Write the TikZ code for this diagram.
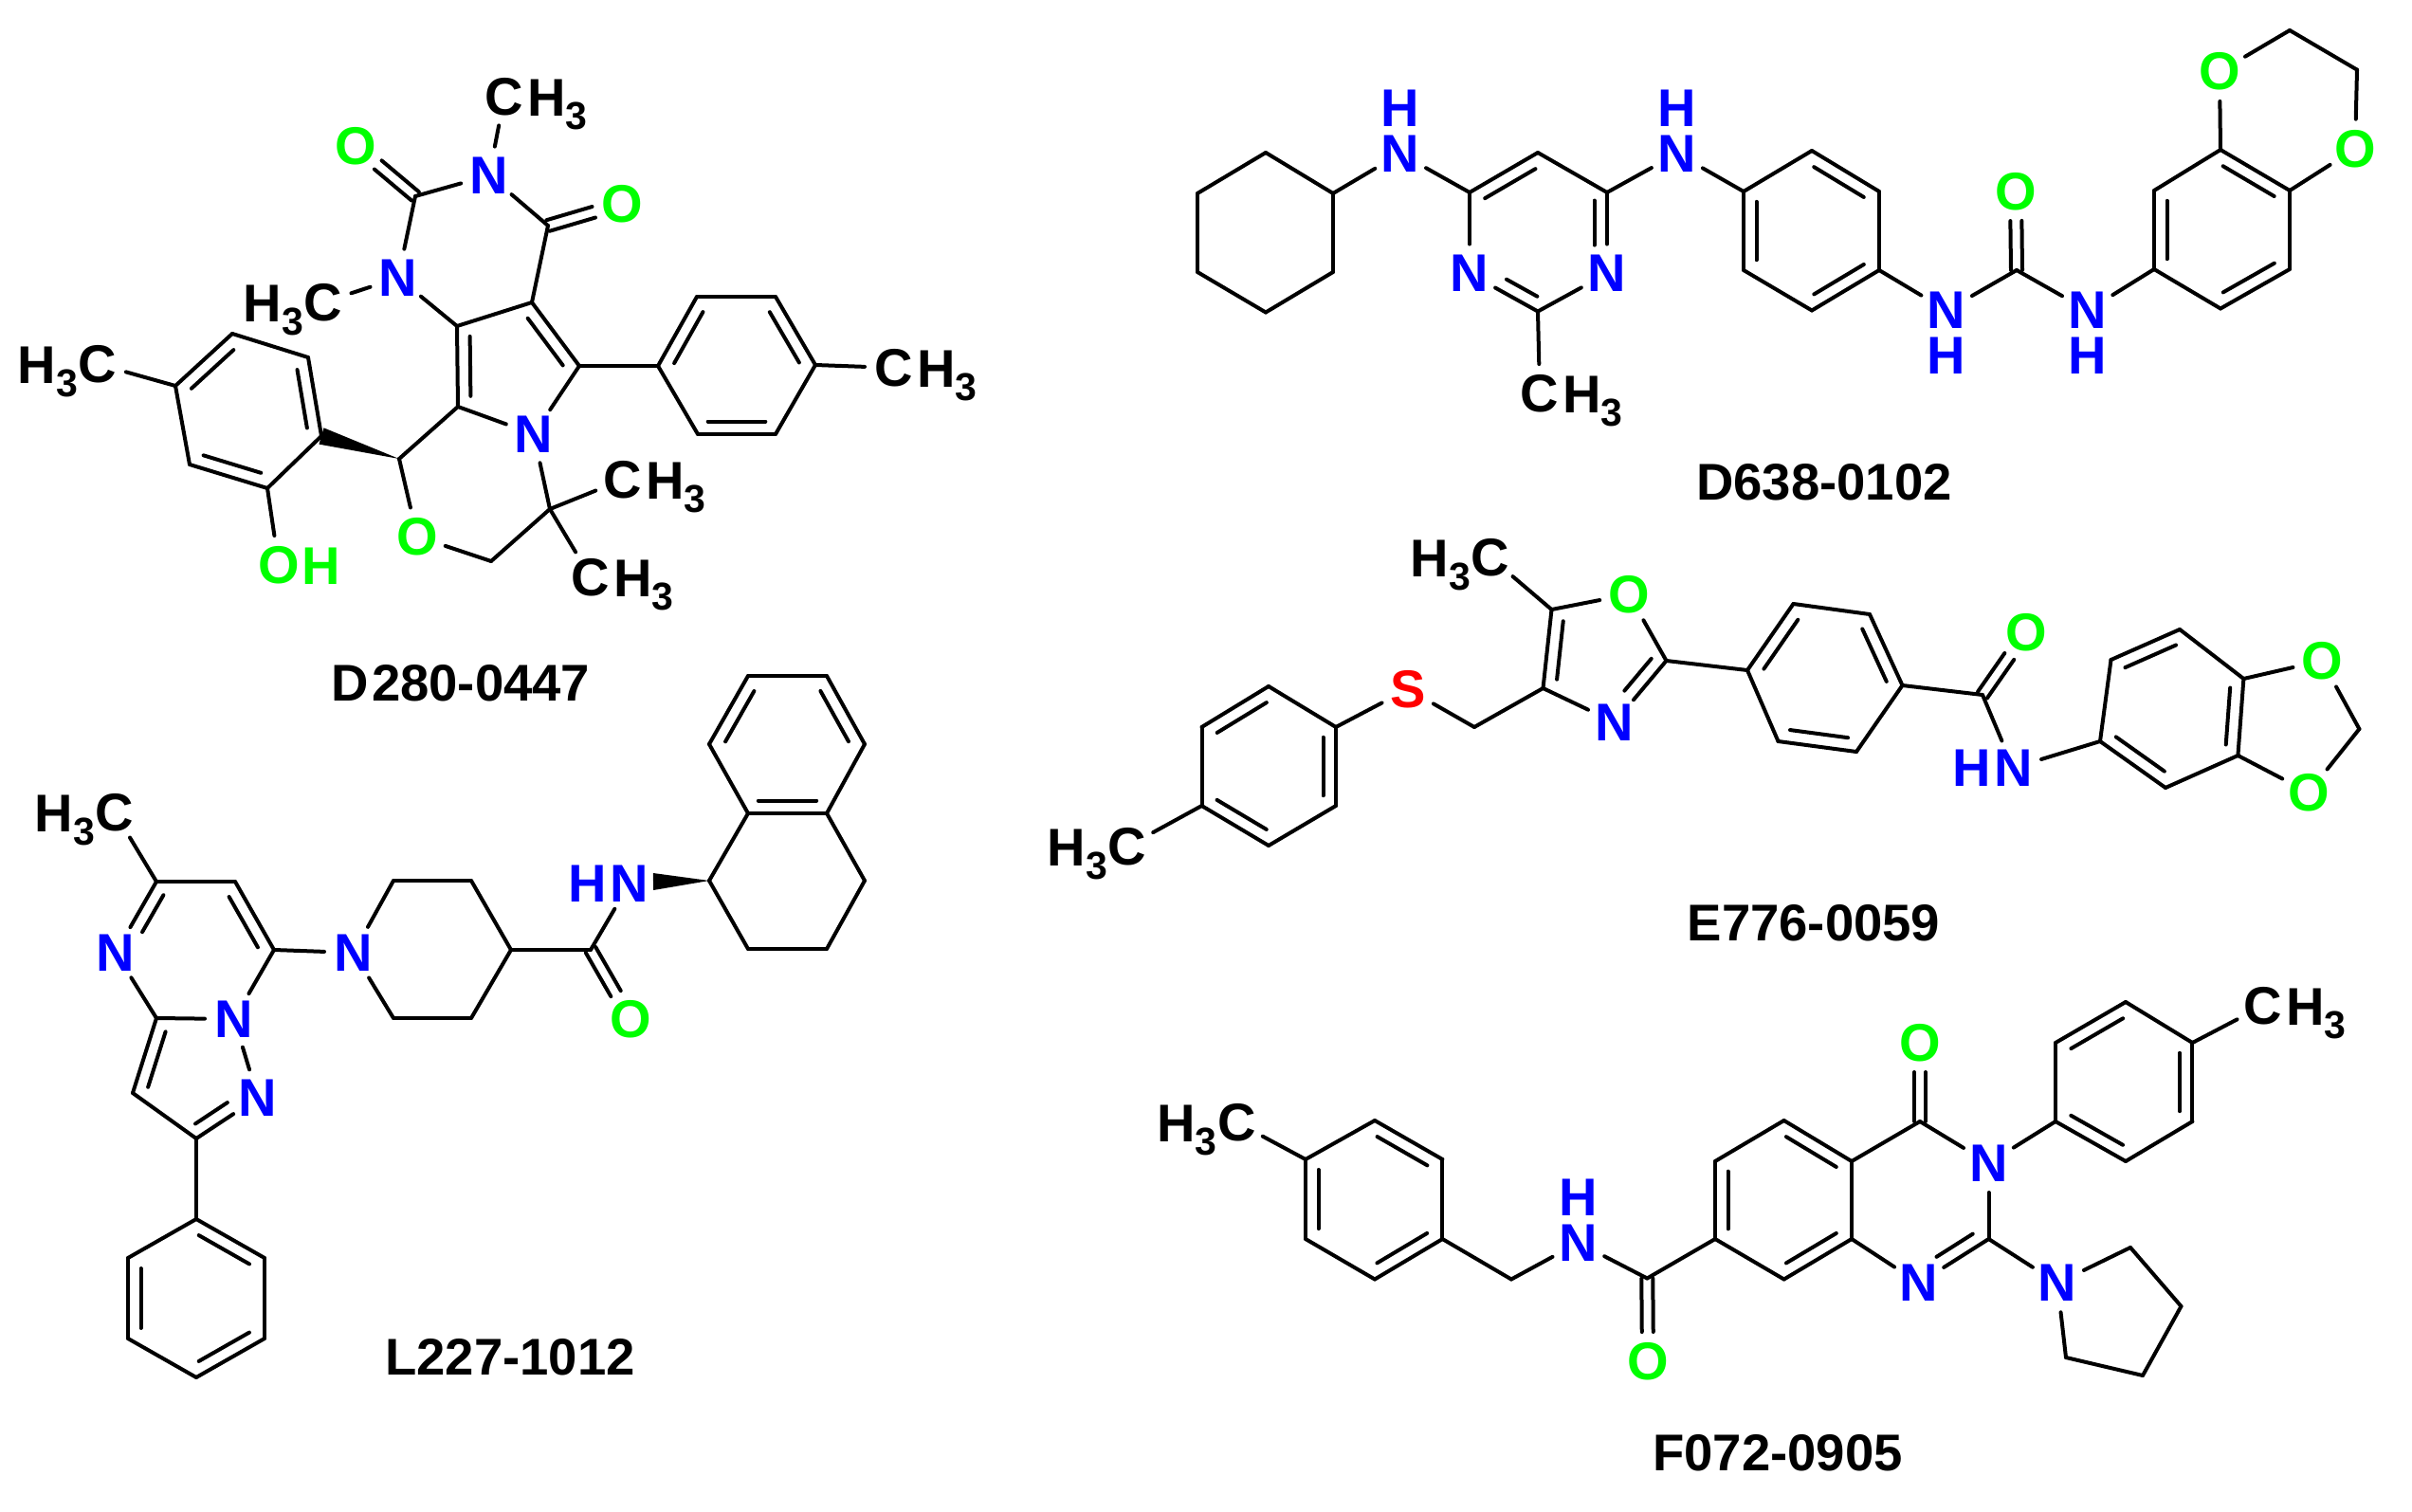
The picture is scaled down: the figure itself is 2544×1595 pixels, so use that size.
\documentclass[tikz,border=0pt]{standalone}
\usepackage{fontspec}
\setmainfont{Liberation Sans}
\usetikzlibrary{calc}
\usetikzlibrary{positioning}

% second line of a ring double bond, on the left of the direction a->b
\newcommand{\inr}[2]{\draw ($(#1)!.13!(#2)!13.5pt!90:(#2)$) -- ($(#1)!.87!(#2)!13.5pt!90:(#2)$);}
\newcommand{\inrf}[4]{\draw ($(#1)!#3!(#2)!13.5pt!90:(#2)$) -- ($(#1)!#4!(#2)!13.5pt!90:(#2)$);}
% C=O
\newcommand{\twin}[2]{\draw[shorten >=31pt] ($(#1)!6pt!90:(#2)$) -- ($(#2)!6pt!-90:(#1)$);
	\draw[shorten >=31pt] ($(#1)!6pt!-90:(#2)$) -- ($(#2)!6pt!90:(#1)$);}
\newcommand{\wdg}[2]{\fill (#1) -- ($(#2)!9pt!90:(#1)$) -- ($(#2)!9pt!-90:(#1)$) -- cycle;}
% H3 beside a C
\newcommand{\threesub}{\raisebox{-14pt}{\fontsize{41}{41}\selectfont 3}}
\newcommand{\tailr}[1]{\node[hatom,anchor=base west] (#1_h) at ([xshift=22pt,yshift=-20pt]#1.center) {H\threesub};}
\newcommand{\taill}[1]{\node[hatom,anchor=base east] (#1_h) at ([xshift=-19pt,yshift=-20pt]#1.center) {H\threesub};}

\begin{document}
\begin{tikzpicture}[x=1pt,y=-1pt,line width=4pt,line cap=round,line join=round]
	\tikzstyle{every node}=[font=\fontsize{56}{60}\selectfont\bfseries]
	\tikzstyle{atom}=[circle,inner sep=0pt,minimum size=58pt]
	\tikzstyle{carbon}=[atom,text=black]
	\tikzstyle{nitro}=[atom,text=blue]
	\tikzstyle{oxy}=[atom,text=green]
	\tikzstyle{sulf}=[atom,text=red]
	\tikzstyle{hatom}=[inner sep=0pt,text=black]
	\tikzstyle{hnit}=[hatom,text=blue,anchor=center]
	\tikzstyle{molname}=[inner sep=0pt,anchor=base,font=\fontsize{54.5}{60}\selectfont\bfseries]

	\useasboundingbox (0,0) rectangle (2544,1595);

	% D280-0447
	\coordinate (m1_c2) at (438,207); \coordinate (m1_c4) at (578,238);
	\coordinate (m1_c8) at (482,344); \coordinate (m1_c4a) at (561,319);
	\coordinate (m1_c5) at (611,386); \coordinate (m1_c9) at (483,429);
	\coordinate (m1_ch) at (421,484); \coordinate (m1_ch2) at (518,592);
	\coordinate (m1_cq) at (580,537);
	\coordinate (m1_a1) at (339,460); \coordinate (m1_a2) at (325,377);
	\coordinate (m1_a3) at (245,352); \coordinate (m1_a4) at (185,407);
	\coordinate (m1_a5) at (200,490); \coordinate (m1_a6) at (282,515);
	\coordinate (m1_p1) at (694,386); \coordinate (m1_p2) at (735,313);
	\coordinate (m1_p3) at (818,313); \coordinate (m1_p4) at (860,385);
	\coordinate (m1_p5) at (818,458); \coordinate (m1_p6) at (736,458);
	\node[oxy]    (m1_o2)  at (375,154) {O};
	\node[oxy]    (m1_o4)  at (656,215) {O};
	\node[oxy]    (m1_o)   at (440,566) {O};
	\node[oxy]    (m1_oh)  at (294,596) {O};
	\node[hnit,anchor=base west] (m1_oh_h) at ([xshift=22pt,yshift=-20pt]m1_oh.center) {\textcolor{green}{H}};
	\node[nitro]  (m1_n3)  at (516,185) {N};
	\node[nitro]  (m1_n1)  at (420,293) {N};
	\node[nitro]  (m1_n)   at (563,458) {N};
	\node[carbon] (m1_me3) at (532,102) {C}; \tailr{m1_me3}
	\node[carbon] (m1_me1) at (341,319) {C}; \taill{m1_me1}
	\node[carbon] (m1_mea) at (657,506) {C}; \tailr{m1_mea}
	\node[carbon] (m1_meb) at (623,609) {C}; \tailr{m1_meb}
	\node[carbon] (m1_mel) at (103,384) {C}; \taill{m1_mel}
	\node[carbon] (m1_mep) at (943,388) {C}; \tailr{m1_mep}
	\path (m1_c2) edge (m1_n3) (m1_n3) edge (m1_c4) (m1_c4) edge (m1_c4a)
	(m1_c4a) edge (m1_c8) (m1_c8) edge (m1_n1) (m1_n1) edge (m1_c2)
	(m1_n3) edge (m1_me3) (m1_n1) edge (m1_me1)
	(m1_c8) edge (m1_c9) (m1_c9) edge (m1_n) (m1_n) edge (m1_c5) (m1_c5) edge (m1_c4a)
	(m1_c9) edge (m1_ch) (m1_ch) edge (m1_o) (m1_o) edge (m1_ch2) (m1_ch2) edge (m1_cq)
	(m1_cq) edge (m1_n) (m1_cq) edge (m1_mea) (m1_cq) edge (m1_meb)
	(m1_a1) edge (m1_a2) (m1_a2) edge (m1_a3) (m1_a3) edge (m1_a4)
	(m1_a4) edge (m1_a5) (m1_a5) edge (m1_a6) (m1_a6) edge (m1_a1)
	(m1_a4) edge (m1_mel) (m1_a6) edge (m1_oh)
	(m1_c5) edge (m1_p1) (m1_p1) edge (m1_p2) (m1_p2) edge (m1_p3) (m1_p3) edge (m1_p4)
	(m1_p4) edge (m1_p5) (m1_p5) edge (m1_p6) (m1_p6) edge (m1_p1) (m1_p4) edge (m1_mep);
	\twin{m1_c2}{m1_o2} \twin{m1_c4}{m1_o4}
	\inr{m1_c8}{m1_c9} \inr{m1_c5}{m1_c4a}
	\inr{m1_a1}{m1_a2} \inr{m1_a3}{m1_a4} \inr{m1_a5}{m1_a6}
	\inr{m1_p2}{m1_p1} \inr{m1_p6}{m1_p5} \inr{m1_p4}{m1_p3}
	\wdg{m1_ch}{m1_a1}
	\node[molname] (m1_name) at (486,739) {D\kern3pt 280-0447};

	% L227-1012
	\coordinate (m2_cm) at (165,930); \coordinate (m2_cb) at (248,930);
	\coordinate (m2_c7) at (289,1002); \coordinate (m2_c3a) at (165,1074);
	\coordinate (m2_c3) at (140,1153); \coordinate (m2_c2) at (207,1201);
	\coordinate (m2_ph1) at (207,1286); \coordinate (m2_ph2) at (279,1327);
	\coordinate (m2_ph3) at (279,1412); \coordinate (m2_ph4) at (207,1453);
	\coordinate (m2_ph5) at (135,1412); \coordinate (m2_ph6) at (135,1327);
	\coordinate (m2_r1) at (415,929); \coordinate (m2_r2) at (497,929);
	\coordinate (m2_r3) at (539,1002); \coordinate (m2_r4) at (497,1074);
	\coordinate (m2_r5) at (415,1074); \coordinate (m2_am) at (623,1002);
	\coordinate (m2_t1) at (748,929); \coordinate (m2_t2) at (789,858);
	\coordinate (m2_t3) at (872,858); \coordinate (m2_t4) at (912,929);
	\coordinate (m2_t5) at (872,1001); \coordinate (m2_t6) at (789,1001);
	\coordinate (m2_q1) at (748,785); \coordinate (m2_q2) at (789,713);
	\coordinate (m2_q3) at (872,713); \coordinate (m2_q4) at (912,785);
	\coordinate (m2_w) at (689,930);
	\node[carbon] (m2_me) at (121,857) {C}; \taill{m2_me}
	\node[nitro]  (m2_n4) at (122,1005) {N};
	\node[nitro]  (m2_n8) at (247,1075) {N};
	\node[nitro]  (m2_n1) at (272,1158) {N};
	\node[nitro]  (m2_np) at (373,1005) {N};
	\node[nitro]  (m2_nh) at (664,932) {N};
	\node[hnit]   (m2_nh_h) at ([xshift=-44pt]m2_nh.center) {H};
	\node[oxy]    (m2_o)  at (665,1075) {O};
	\path (m2_me) edge (m2_cm) (m2_cm) edge (m2_cb) (m2_cb) edge (m2_c7) (m2_c7) edge (m2_n8)
	(m2_n8) edge (m2_c3a) (m2_c3a) edge (m2_n4) (m2_n4) edge (m2_cm)
	(m2_c3a) edge (m2_c3) (m2_c3) edge (m2_c2) (m2_c2) edge (m2_n1) (m2_n1) edge (m2_n8)
	(m2_c2) edge (m2_ph1) (m2_ph1) edge (m2_ph2) (m2_ph2) edge (m2_ph3) (m2_ph3) edge (m2_ph4)
	(m2_ph4) edge (m2_ph5) (m2_ph5) edge (m2_ph6) (m2_ph6) edge (m2_ph1)
	(m2_c7) edge (m2_np) (m2_np) edge (m2_r1) (m2_r1) edge (m2_r2) (m2_r2) edge (m2_r3)
	(m2_r3) edge (m2_r4) (m2_r4) edge (m2_r5) (m2_r5) edge (m2_np)
	(m2_r3) edge (m2_am) (m2_am) edge (m2_nh)
	(m2_t1) edge (m2_t2) (m2_t2) edge (m2_t3) (m2_t3) edge (m2_t4) (m2_t4) edge (m2_t5)
	(m2_t5) edge (m2_t6) (m2_t6) edge (m2_t1)
	(m2_t2) edge (m2_q1) (m2_q1) edge (m2_q2) (m2_q2) edge (m2_q3) (m2_q3) edge (m2_q4) (m2_q4) edge (m2_t3);
	\twin{m2_am}{m2_o}
	\inrf{m2_cm}{m2_n4}{.1}{.62} \inr{m2_c7}{m2_cb}
	\inr{m2_c3a}{m2_c3} \inrf{m2_c2}{m2_n1}{.1}{.62}
	\inr{m2_ph6}{m2_ph5} \inr{m2_ph4}{m2_ph3} \inr{m2_ph2}{m2_ph1}
	\inr{m2_t2}{m2_t3} \inr{m2_q4}{m2_q3} \inr{m2_q2}{m2_q1}
	\wdg{m2_t1}{m2_w}
	\node[molname] (m2_name) at (538,1450) {L227-1012};

	% D638-0102
	\coordinate (m3_x1) at (1406,204); \coordinate (m3_x2) at (1335,161);
	\coordinate (m3_x3) at (1263,204); \coordinate (m3_x4) at (1263,287);
	\coordinate (m3_x5) at (1335,329.5); \coordinate (m3_x6) at (1406,287);
	\coordinate (m3_c4) at (1550,203); \coordinate (m3_c5) at (1622,161);
	\coordinate (m3_c6) at (1695,203); \coordinate (m3_c2) at (1622,328.5);
	\coordinate (m3_g1) at (1839,202); \coordinate (m3_g2) at (1911,159);
	\coordinate (m3_g3) at (1982,202); \coordinate (m3_g4) at (1982,285);
	\coordinate (m3_g5) at (1911,327.5); \coordinate (m3_g6) at (1839,285);
	\coordinate (m3_u) at (2127,285);
	\coordinate (m3_h1) at (2272,284); \coordinate (m3_h2) at (2272,201);
	\coordinate (m3_h3) at (2342,158); \coordinate (m3_h4) at (2415,201);
	\coordinate (m3_h5) at (2415,284); \coordinate (m3_h6) at (2342,325.5);
	\coordinate (m3_d1) at (2415,32); \coordinate (m3_d2) at (2486,73.6);
	\node[nitro] (m3_na) at (1477,162) {N}; \node[hnit] (m3_na_h) at ([yshift=48pt]m3_na.center) {H};
	\node[nitro] (m3_nb) at (1769,162) {N}; \node[hnit] (m3_nb_h) at ([yshift=48pt]m3_nb.center) {H};
	\node[nitro] (m3_nc) at (2053,327.5) {N}; \node[hnit] (m3_nc_h) at ([yshift=-48pt]m3_nc.center) {H};
	\node[nitro] (m3_nd) at (2202,327.5) {N}; \node[hnit] (m3_nd_h) at ([yshift=-48pt]m3_nd.center) {H};
	\node[nitro] (m3_n1) at (1695,288.5) {N};
	\node[nitro] (m3_n3) at (1550,288.5) {N};
	\node[oxy]   (m3_ou) at (2126,202) {O};
	\node[oxy]   (m3_oa) at (2341,75.6) {O};
	\node[oxy]   (m3_ob) at (2484,157) {O};
	\node[carbon] (m3_me) at (1624,415) {C}; \tailr{m3_me}
	\path (m3_x1) edge (m3_x2) (m3_x2) edge (m3_x3) (m3_x3) edge (m3_x4) (m3_x4) edge (m3_x5)
	(m3_x5) edge (m3_x6) (m3_x6) edge (m3_x1) (m3_x1) edge (m3_na) (m3_na) edge (m3_c4)
	(m3_c4) edge (m3_c5) (m3_c5) edge (m3_c6) (m3_c6) edge (m3_n1) (m3_n1) edge (m3_c2)
	(m3_c2) edge (m3_n3) (m3_n3) edge (m3_c4) (m3_c2) edge (m3_me)
	(m3_c6) edge (m3_nb) (m3_nb) edge (m3_g1)
	(m3_g1) edge (m3_g2) (m3_g2) edge (m3_g3) (m3_g3) edge (m3_g4) (m3_g4) edge (m3_g5)
	(m3_g5) edge (m3_g6) (m3_g6) edge (m3_g1)
	(m3_g4) edge (m3_nc) (m3_nc) edge (m3_u) (m3_u) edge (m3_nd) (m3_nd) edge (m3_h1)
	(m3_h1) edge (m3_h2) (m3_h2) edge (m3_h3) (m3_h3) edge (m3_h4) (m3_h4) edge (m3_h5)
	(m3_h5) edge (m3_h6) (m3_h6) edge (m3_h1)
	(m3_h3) edge (m3_oa) (m3_oa) edge (m3_d1) (m3_d1) edge (m3_d2) (m3_d2) edge (m3_ob) (m3_ob) edge (m3_h4);
	\twin{m3_u}{m3_ou}
	\inr{m3_c5}{m3_c4} \inrf{m3_n3}{m3_c2}{.45}{.9} \inrf{m3_n1}{m3_c6}{.35}{.9}
	\inr{m3_g1}{m3_g6} \inr{m3_g5}{m3_g4} \inr{m3_g3}{m3_g2}
	\inr{m3_h2}{m3_h1} \inr{m3_h6}{m3_h5} \inr{m3_h4}{m3_h3}
	\node[molname] (m3_name) at (1924,527) {D638-0102};

	% E776-0059
	\coordinate (m4_c5) at (1636.5,643); \coordinate (m4_c2) at (1757.5,697);
	\coordinate (m4_c4) at (1627.5,726); \coordinate (m4_ch2) at (1555,767);
	\coordinate (m4_t1) at (1409,767); \coordinate (m4_t2) at (1338,724);
	\coordinate (m4_t3) at (1267.5,767); \coordinate (m4_t4) at (1267.5,850);
	\coordinate (m4_t5) at (1338,892); \coordinate (m4_t6) at (1409,850);
	\coordinate (m4_b1) at (1843,707); \coordinate (m4_b2) at (1891.5,637);
	\coordinate (m4_b3) at (1972,648); \coordinate (m4_b4) at (2006.5,723);
	\coordinate (m4_b5) at (1958,793); \coordinate (m4_b6) at (1875.5,782);
	\coordinate (m4_am) at (2091,733);
	\coordinate (m4_d1) at (2215,782); \coordinate (m4_d2) at (2226.5,696);
	\coordinate (m4_d3) at (2299,664); \coordinate (m4_d4) at (2366.4,716);
	\coordinate (m4_d5) at (2360.4,797); \coordinate (m4_d6) at (2284,831);
	\coordinate (m4_cd) at (2488.4,769);
	\node[oxy]   (m4_o1) at (1718,627) {O};
	\node[nitro] (m4_n3) at (1703,762) {N};
	\node[sulf]  (m4_s)  at (1485,727) {S};
	\node[oxy]   (m4_oa) at (2137,667) {O};
	\node[nitro] (m4_nh) at (2123.4,810) {N};
	\node[hnit]  (m4_nh_h) at ([xshift=-44pt]m4_nh.center) {H};
	\node[oxy]   (m4_ot) at (2449,697) {O};
	\node[oxy]   (m4_ob) at (2435,836) {O};
	\node[carbon] (m4_met) at (1572,588) {C}; \taill{m4_met}
	\node[carbon] (m4_meb) at (1189,893) {C}; \taill{m4_meb}
	\path (m4_met) edge (m4_c5) (m4_c5) edge (m4_o1) (m4_o1) edge (m4_c2) (m4_c2) edge (m4_n3)
	(m4_n3) edge (m4_c4) (m4_c4) edge (m4_c5) (m4_c4) edge (m4_ch2) (m4_ch2) edge (m4_s)
	(m4_s) edge (m4_t1) (m4_t1) edge (m4_t2) (m4_t2) edge (m4_t3) (m4_t3) edge (m4_t4)
	(m4_t4) edge (m4_t5) (m4_t5) edge (m4_t6) (m4_t6) edge (m4_t1) (m4_t4) edge (m4_meb)
	(m4_c2) edge (m4_b1) (m4_b1) edge (m4_b2) (m4_b2) edge (m4_b3) (m4_b3) edge (m4_b4)
	(m4_b4) edge (m4_b5) (m4_b5) edge (m4_b6) (m4_b6) edge (m4_b1) (m4_b4) edge (m4_am)
	(m4_am) edge (m4_nh) (m4_nh) edge (m4_d1)
	(m4_d1) edge (m4_d2) (m4_d2) edge (m4_d3) (m4_d3) edge (m4_d4) (m4_d4) edge (m4_d5)
	(m4_d5) edge (m4_d6) (m4_d6) edge (m4_d1)
	(m4_d4) edge (m4_ot) (m4_ot) edge (m4_cd) (m4_cd) edge (m4_ob) (m4_ob) edge (m4_d5);
	\twin{m4_am}{m4_oa}
	\inr{m4_c5}{m4_c4} \inrf{m4_n3}{m4_c2}{.38}{.9}
	\inr{m4_t2}{m4_t3} \inr{m4_t4}{m4_t5} \inr{m4_t6}{m4_t1}
	\inr{m4_b6}{m4_b5} \inr{m4_b4}{m4_b3} \inr{m4_b2}{m4_b1}
	\inr{m4_d1}{m4_d6} \inr{m4_d5}{m4_d4} \inr{m4_d3}{m4_d2}
	\node[molname] (m4_name) at (1913,992) {E776-0059};

	% F072-0905
	\coordinate (m5_e1) at (2312.4,1100); \coordinate (m5_e2) at (2242,1057);
	\coordinate (m5_e3) at (2168,1100); \coordinate (m5_e4) at (2168,1183);
	\coordinate (m5_e5) at (2242,1225); \coordinate (m5_e6) at (2312.4,1183);
	\coordinate (m5_c4) at (2025,1183); \coordinate (m5_c2) at (2097.5,1307);
	\coordinate (m5_c8a) at (1953,1307); \coordinate (m5_c4a) at (1953,1225);
	\coordinate (m5_c5) at (1881.6,1182); \coordinate (m5_c6) at (1809,1225);
	\coordinate (m5_c7) at (1809,1307); \coordinate (m5_c8) at (1881.6,1349.5);
	\coordinate (m5_am) at (1737.3,1348.5); \coordinate (m5_ch2) at (1594,1349.5);
	\coordinate (m5_r1) at (1521.4,1307); \coordinate (m5_r2) at (1521.4,1223);
	\coordinate (m5_r3) at (1450,1182); \coordinate (m5_r4) at (1377,1223);
	\coordinate (m5_r5) at (1377,1307); \coordinate (m5_r6) at (1450,1349.5);
	\coordinate (m5_y1) at (2247,1316); \coordinate (m5_y2) at (2300.5,1378);
	\coordinate (m5_y3) at (2260,1451); \coordinate (m5_y4) at (2179,1432);
	\node[oxy]   (m5_o4) at (2025,1100) {O};
	\node[oxy]   (m5_oa) at (1738,1436) {O};
	\node[nitro] (m5_n3) at (2097.5,1227) {N};
	\node[nitro] (m5_n1) at (2024,1353.5) {N};
	\node[nitro] (m5_ny) at (2170,1353.5) {N};
	\node[nitro] (m5_nh) at (1664.7,1311) {N};
	\node[hnit]  (m5_nh_h) at ([yshift=48pt]m5_nh.center) {H};
	\node[carbon] (m5_met) at (2387,1061) {C}; \tailr{m5_met}
	\node[carbon] (m5_mer) at (1304.5,1184) {C}; \taill{m5_mer}
	\path (m5_e1) edge (m5_met) (m5_e1) edge (m5_e2) (m5_e2) edge (m5_e3) (m5_e3) edge (m5_e4)
	(m5_e4) edge (m5_e5) (m5_e5) edge (m5_e6) (m5_e6) edge (m5_e1) (m5_e4) edge (m5_n3)
	(m5_n3) edge (m5_c4) (m5_c4) edge (m5_c4a) (m5_c4a) edge (m5_c8a) (m5_c8a) edge (m5_n1)
	(m5_n1) edge (m5_c2) (m5_c2) edge (m5_n3) (m5_c2) edge (m5_ny)
	(m5_c4a) edge (m5_c5) (m5_c5) edge (m5_c6) (m5_c6) edge (m5_c7) (m5_c7) edge (m5_c8) (m5_c8) edge (m5_c8a)
	(m5_c7) edge (m5_am) (m5_am) edge (m5_nh) (m5_nh) edge (m5_ch2) (m5_ch2) edge (m5_r1)
	(m5_r1) edge (m5_r2) (m5_r2) edge (m5_r3) (m5_r3) edge (m5_r4) (m5_r4) edge (m5_r5)
	(m5_r5) edge (m5_r6) (m5_r6) edge (m5_r1) (m5_r4) edge (m5_mer)
	(m5_ny) edge (m5_y1) (m5_y1) edge (m5_y2) (m5_y2) edge (m5_y3) (m5_y3) edge (m5_y4) (m5_y4) edge (m5_ny);
	\twin{m5_c4}{m5_o4} \twin{m5_am}{m5_oa}
	\inrf{m5_n1}{m5_c2}{.35}{.87}
	\inr{m5_e2}{m5_e3} \inr{m5_e4}{m5_e5} \inr{m5_e6}{m5_e1}
	\inr{m5_c6}{m5_c7} \inr{m5_c8}{m5_c8a} \inr{m5_c4a}{m5_c5}
	\inr{m5_r4}{m5_r5} \inr{m5_r6}{m5_r1} \inr{m5_r2}{m5_r3}
	\node[molname] (m5_name) at (1875,1551) {F072-0905};
\end{tikzpicture}
\end{document}
